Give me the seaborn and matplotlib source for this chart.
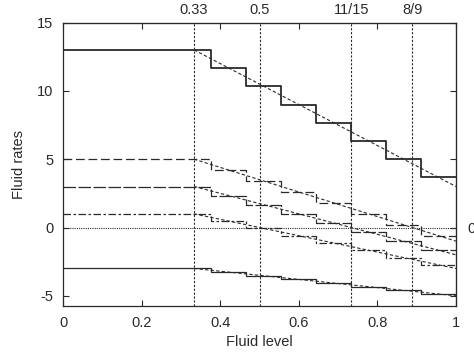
import matplotlib
matplotlib.use("Agg")
import matplotlib.pyplot as plt
import seaborn as sns
import pandas as pd

# --- data ---
breaks = [1/3, 0.5, 11/15, 8/9]
break_labels = ['0.33', '0.5', '11/15', '8/9']

# stair edges (left part, then steps of width 4/45 starting half a step after 1/3)
step_x = [0, 1/3, 17/45, 21/45, 25/45, 29/45, 33/45, 37/45, 41/45, 1]
stairs_13 = [13, 13, 11.67, 10.33, 9.0, 7.67, 6.33, 5.0, 3.67, 3.67]
stairs_5 = [5, 5, 4.2, 3.4, 2.6, 1.8, 1.0, 0.2, -0.6, -0.6]
stairs_3 = [3, 3, 2.33, 1.67, 1.0, 0.33, -0.33, -1.0, -1.67, -1.67]
stairs_1 = [1, 1, 0.47, -0.07, -0.6, -1.13, -1.67, -2.2, -2.73, -2.73]
stairs_m3 = [-3, -3, -3.27, -3.53, -3.8, -4.07, -4.33, -4.6, -4.87, -4.87]

line_x = [1/3, 1]
line_13 = [13, 3]
line_5 = [5, -1]
line_3 = [3, -2]
line_1 = [1, -3]
line_m3 = [-3, -5]

sns.set_style('ticks')
plt.rcParams['font.family'] = ['Liberation Sans', 'DejaVu Sans']
plt.rcParams['axes.unicode_minus'] = False

fig = plt.figure(figsize=(4.74, 3.53), dpi=100)
ax = fig.add_axes([0.133, 0.133, 0.829, 0.803])

ink = '#2a2a2a'
fs = 10.5

# staircases
stairs = [
    (stairs_13, '-', 1.3),
    (stairs_5, (0, (7, 3)), 0.9),
    (stairs_3, (0, (10, 2)), 0.9),
    (stairs_1, (0, (6, 2, 2, 2)), 0.9),
    (stairs_m3, '-', 0.9),
]
for vals, ls, lw in stairs:
    sns.lineplot(x=step_x, y=vals, ax=ax, drawstyle='steps-post', color=ink,
                 linestyle=ls, linewidth=lw, estimator=None)

# sloped lines
for vals in [line_13, line_5, line_3, line_1, line_m3]:
    sns.lineplot(x=line_x, y=vals, ax=ax, color=ink, linestyle=(0, (3, 2)),
                 linewidth=0.8, estimator=None)

# zero line and breakpoints
ax.axhline(0, color=ink, linestyle=(0, (1, 1)), linewidth=0.8)
for b in breaks:
    ax.axvline(b, color=ink, linestyle=(0, (2, 1.5)), linewidth=0.8)

ax.set_xlim(0, 1)
ax.set_ylim(-5.75, 15)
ax.set_xticks([0, 0.2, 0.4, 0.6, 0.8, 1])
ax.set_xticklabels(['0', '0.2', '0.4', '0.6', '0.8', '1'])
ax.set_yticks([-5, 0, 5, 10, 15])
ax.tick_params(direction='in', top=True, right=True, length=4, width=0.8,
               labelsize=fs, colors=ink, pad=7)
for s in ax.spines.values():
    s.set_linewidth(0.9)
    s.set_color(ink)

top = ax.secondary_xaxis('top')
top.set_xticks(breaks)
top.set_xticklabels(break_labels)
top.tick_params(length=0, labelsize=fs, pad=4, colors=ink)

right = ax.secondary_yaxis('right')
right.set_yticks([0])
right.set_yticklabels(['0'])
right.tick_params(length=0, labelsize=fs, pad=8, colors=ink)

ax.set_xlabel('Fluid level', fontsize=fs, color=ink, labelpad=4)
ax.set_ylabel('Fluid rates', fontsize=fs, color=ink, labelpad=8)

fig.savefig('out.png', dpi=100)
